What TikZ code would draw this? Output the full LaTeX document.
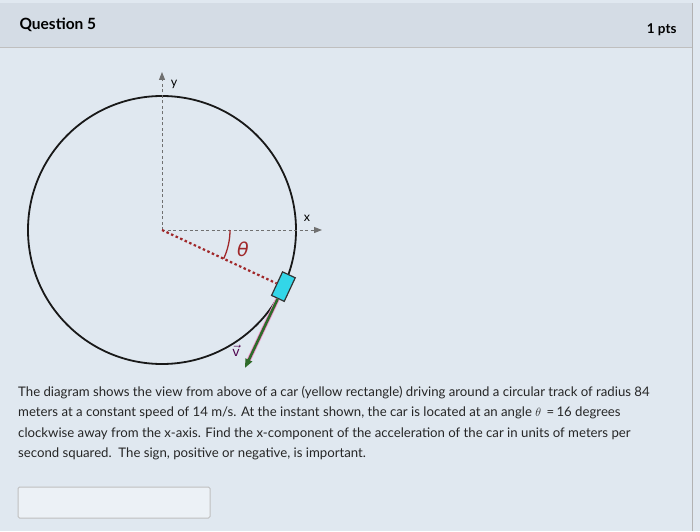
\documentclass[tikz,border=0pt]{standalone}
\usepackage{fontspec}
\setmainfont{Lato}
\newfontfamily\symfont{DejaVu Sans}
\usepackage{tikz}
\usetikzlibrary{arrows.meta,calc}
\definecolor{pagebg}{HTML}{E0E8F0}
\definecolor{headbg}{HTML}{D4DCE5}
\definecolor{axisgray}{HTML}{707070}
\definecolor{radred}{HTML}{A0282A}
\definecolor{carcyan}{HTML}{33D6E8}
\definecolor{vgreen}{HTML}{2E6B2A}
\tikzset{
  axisline/.style={color=axisgray, line width=1pt, dash pattern=on 3pt off 2.5pt, -{Triangle[length=8pt,width=6pt]}},
  radline/.style={color=radred, line width=2.2pt, dash pattern=on 2.5pt off 2.5pt},
  carbox/.style={draw=black!80, fill=carcyan, line width=1.2pt, minimum width=26pt, minimum height=14pt, inner sep=0pt, rotate=65},
  qtext/.style={font=\fontsize{13.2}{20.5}\selectfont, text=black!85, align=left, inner sep=0pt}
}
\begin{document}
\begin{tikzpicture}[scale=1.000000,x=1pt,y=1pt]
\useasboundingbox (0.000000,0.000000) rectangle (700.000000,531.000000);
\fill[pagebg] (0.000000,0.000000) rectangle (700.000000,531.000000);
% Header bar
\fill[headbg] (0.000000,484.000000) rectangle (692.000000,528.000000);
\draw[color=black!25, line width=0.8pt] (0.000000,484.000000) -- (692.000000,484.000000);
\draw[color=black!30, line width=0.8pt] (692.000000,0.000000) -- (692.000000,528.000000);
\node[anchor=west, font=\fontsize{15.5}{18}\selectfont\bfseries] (qtitle) at (16.000000,506.000000) {Question 5};
\node[anchor=east, font=\fontsize{13.5}{16}\selectfont\bfseries] (qpts) at (680.000000,501.000000) {1 pts};
% Track and axes
\coordinate (O) at (162.000000,301.000000);
\coordinate (ytip) at (162.000000,459.000000);
\coordinate (xtip) at (322.000000,301.000000);
\draw[color=black!90, line width=1.8pt] (O) circle (134.000000);
\draw[axisline] (O) -- (ytip);
\draw[axisline] (O) -- (xtip);
\node[font=\fontsize{12.5}{14}\selectfont] (ylab) at (174.000000,447.000000) {y};
\node[font=\fontsize{12.5}{14}\selectfont] (xlab) at (307.000000,313.000000) {x};
% Car on the track
\node[carbox] (car) at (283.400000,244.400000) {};
\draw[radline] (O) -- (car.north);
\draw[color=radred, line width=1.3pt] (230.000000,301.000000) arc (0:-25:68.000000);
\node[color=radred, font=\symfont\fontsize{19}{21}\selectfont\itshape] (thlab) at (243.000000,282.000000) {θ};
% Velocity vector
\coordinate (vtip) at (245.000000,163.000000);
\draw[color=magenta!45, line width=4.2pt] (car.west) -- ($(car.west)!0.93!(vtip)$);
\draw[color=vgreen, line width=2.6pt, -{Triangle[length=9pt,width=7pt]}] (car.west) -- (vtip);
\node[color=violet!60!black, scale=1.6] (vlab) at (236.000000,180.000000) {$\vec{\mathsf{v}}$};
% Question text
\node[qtext, anchor=north west] (qbody) at (18.000000,145.000000) {The diagram shows the view from above of a car (yellow rectangle) driving around a circular track of radius 84\\meters at a constant speed of 14 m/s. At the instant shown, the car is located at an angle $\theta$ \,=\,16 degrees\\clockwise away from the x-axis. Find the x-component of the acceleration of the car in units of meters per\\second squared.\, The sign, positive or negative, is important.};
% Answer box
\draw[color=black!25, fill=white!40!pagebg, line width=1pt, rounded corners=1.5pt] (18.000000,13.000000) rectangle (210.000000,44.000000);
\end{tikzpicture}
\end{document}
